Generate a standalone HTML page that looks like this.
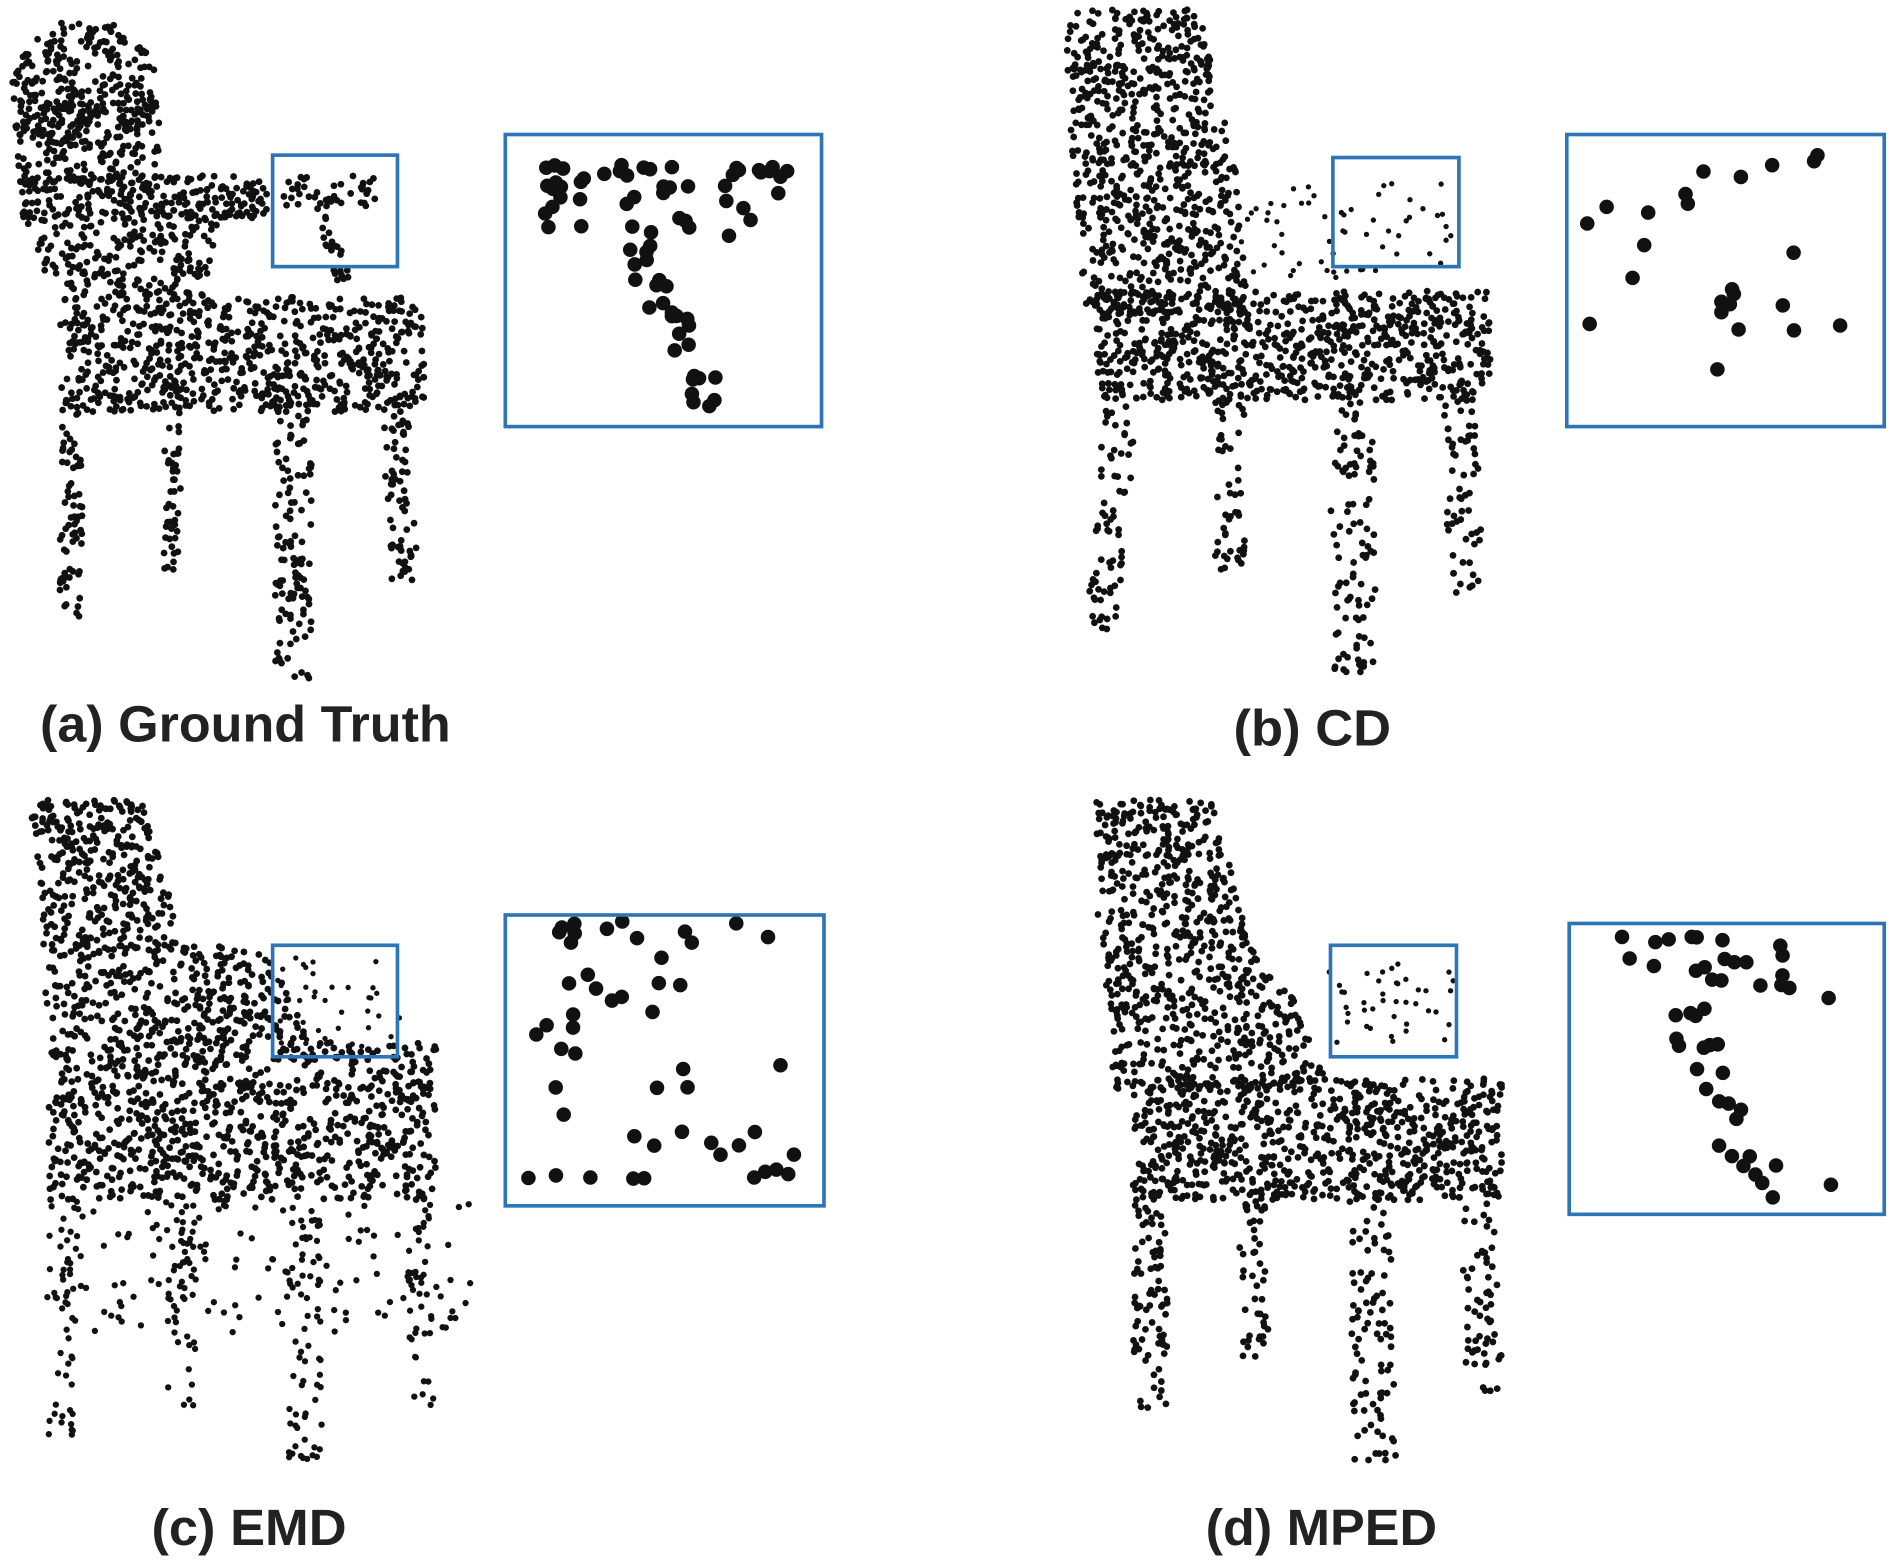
<!DOCTYPE html>
<html><head><meta charset="utf-8"><style>
html,body{margin:0;padding:0;background:#fff;}
svg{display:block}
text{font-family:"Liberation Sans",Arial,sans-serif;font-weight:bold;fill:#222;font-size:42px}
</style></head><body>
<svg id="s" width="1900" height="1567" viewBox="0 0 1568 1293" preserveAspectRatio="none" xmlns="http://www.w3.org/2000/svg">
<rect width="1568" height="1293" fill="#fff"/>
<g id="dots" fill="#111"></g>
<g fill="none" stroke="#2e75b6" stroke-width="3">
<rect x="225" y="128" width="103" height="92"/>
<rect x="417" y="111" width="261" height="241"/>
<rect x="1100" y="130" width="104" height="90"/>
<rect x="1293" y="111" width="262" height="241"/>
<rect x="225" y="780" width="103" height="92"/>
<rect x="417" y="755" width="263" height="240"/>
<rect x="1098" y="780" width="104" height="92"/>
<rect x="1295" y="762" width="260" height="240"/>
</g>
<text x="33" y="612" textLength="339" lengthAdjust="spacingAndGlyphs">(a) Ground Truth</text>
<text x="1018" y="615" textLength="130" lengthAdjust="spacingAndGlyphs">(b) CD</text>
<text x="125" y="1275" textLength="161" lengthAdjust="spacingAndGlyphs">(c) EMD</text>
<text x="995" y="1275" textLength="191" lengthAdjust="spacingAndGlyphs">(d) MPED</text>
</svg>
<script>
var seed=12345;function r(){seed=(seed*16807)%2147483647;return seed/2147483647;}
var out=[];
function dot(x,y,rad){out.push('<circle cx="'+x.toFixed(1)+'" cy="'+y.toFixed(1)+'" r="'+rad+'"/>');}
function reg(x0,y0,x1,y1,n,rad){for(var i=0;i<n;i++){dot(x0+r()*(x1-x0),y0+r()*(y1-y0),rad);}}
// trapezoid: top y0 spans xa0..xa1, bottom y1 spans xb0..xb1
function trap(y0,y1,xa0,xa1,xb0,xb1,n,rad){for(var i=0;i<n;i++){var t=r();var y=y0+(y1-y0)*t;var l=xa0+(xb0-xa0)*t,rr=xa1+(xb1-xa1)*t;dot(l+r()*(rr-l),y,rad);}}
function ell(cx,cy,rx,ry,n,rad){for(var i=0;i<n;){var x=r()*2-1,y=r()*2-1;if(x*x+y*y>1)continue;dot(cx+x*rx,cy+y*ry,rad);i++;}}
function leg(xa,ya,xb,yb,w,n,rad){for(var i=0;i<n;i++){var t=r();dot(xa+(xb-xa)*t+(r()-0.5)*w,ya+(yb-ya)*t,rad);}}
// (a)
ell(70,75,60,60,260,2.8);trap(75,150,10,130,15,135,160,2.8);reg(15,145,220,180,260,2.8);trap(180,245,22,180,40,170,200,2.8);
reg(50,245,350,340,700,2.8);reg(230,145,310,170,40,2.8);leg(265,170,285,235,12,25,2.8);
leg(60,330,58,510,18,70,2.8);leg(142,330,142,470,14,45,2.8);leg(242,330,242,560,30,120,2.8);leg(325,330,335,490,22,70,2.8);
// zoom a
reg(435,135,650,165,35,6);reg(440,165,630,195,14,6);leg(525,200,590,340,30,28,6);
// (b)
trap(8,140,878,990,885,1020,400,2.8);trap(140,260,885,1020,895,1030,360,2.8);reg(1020,150,1200,230,60,2.2);
reg(905,240,1230,330,800,2.8);
leg(925,330,910,520,28,70,2.8);leg(1015,330,1015,470,24,50,2.8);leg(1115,330,1118,555,36,100,2.8);leg(1205,330,1210,490,28,60,2.8);
// zoom b
reg(1305,125,1525,315,24,6);
// (c)
trap(660,780,25,120,35,150,320,2.8);trap(780,860,35,215,40,260,330,2.8);reg(40,860,360,990,900,2.8);reg(220,790,330,865,40,2.2);
reg(35,990,390,1100,120,2.6);leg(55,990,50,1185,22,45,2.6);leg(150,990,150,1160,24,45,2.6);leg(250,990,252,1220,28,70,2.6);leg(345,990,348,1160,20,40,2.6);
// zoom c
reg(430,760,670,975,50,6);
// (d)
trap(660,800,905,1000,905,1040,380,2.8);trap(800,900,910,1060,920,1100,330,2.8);reg(1090,790,1200,860,40,2.2);
reg(935,890,1240,990,800,2.8);
leg(950,990,950,1165,30,80,2.8);leg(1035,990,1035,1120,24,45,2.8);leg(1130,990,1135,1210,34,90,2.8);leg(1220,990,1225,1150,30,60,2.8);
// zoom d
reg(1320,772,1510,825,22,6);leg(1390,830,1450,990,35,22,6);reg(1460,950,1525,990,3,6);
document.getElementById('dots').innerHTML=out.join('');
</script>
</body></html>
